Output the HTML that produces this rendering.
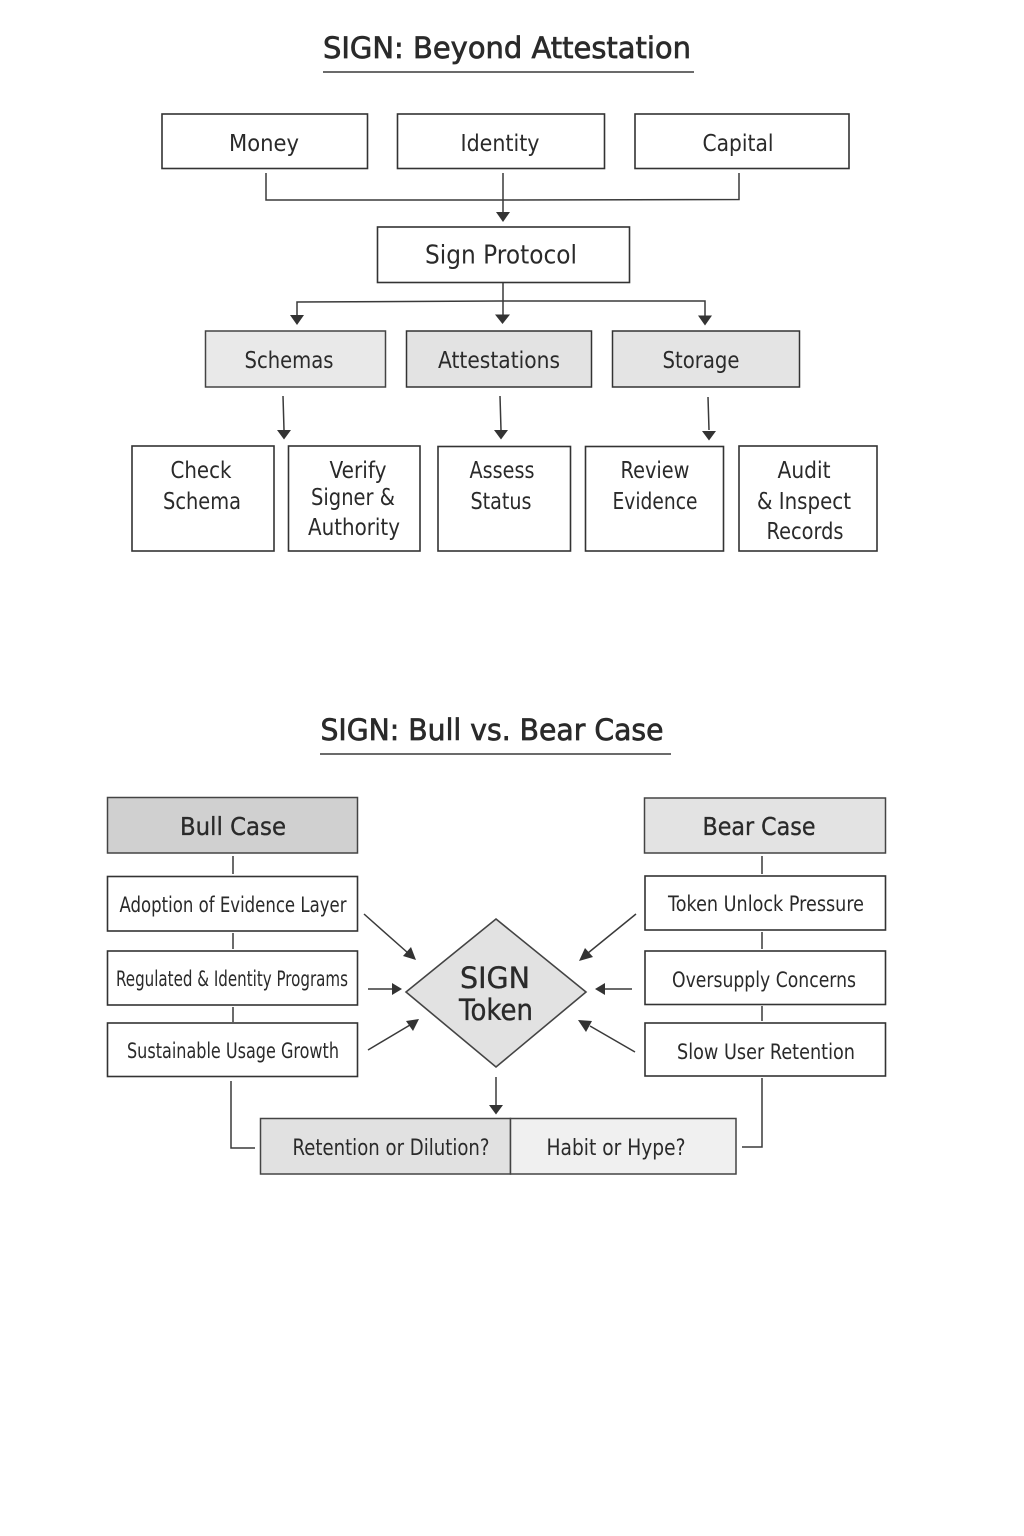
<!DOCTYPE html>
<html><head><meta charset="utf-8"><style>
html,body{margin:0;padding:0;background:#fff}
svg{display:block}
text{font-family:"DejaVu Sans","Liberation Sans",sans-serif;fill:#2a2a2a;text-anchor:middle}
.t{stroke:#2a2a2a;stroke-width:.7}
.m{stroke:#2a2a2a;stroke-width:.35}
.b{fill:#fff;stroke:#333;stroke-width:1.6}
.l{fill:none;stroke:#3a3a3a;stroke-width:1.5}
.a{fill:#333;stroke:none}
</style></head><body>
<svg width="1024" height="1536" viewBox="0 0 1024 1536" xmlns="http://www.w3.org/2000/svg">
<rect width="1024" height="1536" fill="#fff"/>

<text class="t" x="507" y="58" font-size="29" textLength="368" lengthAdjust="spacingAndGlyphs">SIGN: Beyond Attestation</text>
<line class="l" x1="323" y1="72" x2="694" y2="72"/>

<rect class="b" x="162" y="114" width="205.500" height="54.500"/>
<rect class="b" x="397.500" y="114" width="207" height="54.500"/>
<rect class="b" x="635" y="114" width="214" height="54.500"/>
<text x="264" y="151" font-size="23" textLength="70" lengthAdjust="spacingAndGlyphs">Money</text>
<text x="500" y="151" font-size="23" textLength="79" lengthAdjust="spacingAndGlyphs">Identity</text>
<text x="738" y="151" font-size="23" textLength="71" lengthAdjust="spacingAndGlyphs">Capital</text>

<path class="l" d="M266 173V200H500L739 199.500V173M503 173V212"/>
<path class="a" d="M496 212H510L503 222Z"/>

<rect class="b" x="377.500" y="227" width="252" height="55.500"/>
<text x="501" y="263.500" font-size="26" textLength="152" lengthAdjust="spacingAndGlyphs">Sign Protocol</text>

<path class="l" d="M503 283V316M297 316V302L500 301H705V316"/>
<path class="a" d="M290 315H304L297 325ZM495 314.500H510L502.500 324ZM698 315.500H712L705 325.500Z"/>

<rect x="205.500" y="331" width="180" height="56" fill="#e9e9e9" stroke="#444" stroke-width="1.500"/>
<rect x="406.500" y="331" width="185" height="56" fill="#e3e3e3" stroke="#333" stroke-width="1.500"/>
<rect x="612.500" y="331" width="187" height="56" fill="#e4e4e4" stroke="#333" stroke-width="1.500"/>
<text x="289" y="368" font-size="23" textLength="89" lengthAdjust="spacingAndGlyphs">Schemas</text>
<text x="499" y="368" font-size="23" textLength="122" lengthAdjust="spacingAndGlyphs">Attestations</text>
<text x="701" y="368" font-size="23" textLength="77" lengthAdjust="spacingAndGlyphs">Storage</text>

<path class="l" d="M283 396L284 430M500 396L501 430M708 397L709 430"/>
<path class="a" d="M277 430H291L284 439.500ZM494 430H508L501 439.500ZM702 431H716L709 440.500Z"/>

<rect class="b" x="132" y="446" width="142" height="105"/>
<rect class="b" x="288.500" y="446" width="131.500" height="105"/>
<rect class="b" x="438" y="446.500" width="132.500" height="104.500"/>
<rect class="b" x="585.500" y="446.500" width="138" height="104.500"/>
<rect class="b" x="739" y="446" width="138" height="105"/>

<g font-size="23">
<text x="201" y="478" textLength="61" lengthAdjust="spacingAndGlyphs">Check</text>
<text x="202" y="509" textLength="78" lengthAdjust="spacingAndGlyphs">Schema</text>
<text x="358" y="478" textLength="57" lengthAdjust="spacingAndGlyphs">Verify</text>
<text x="353" y="505" textLength="84" lengthAdjust="spacingAndGlyphs">Signer &amp;</text>
<text x="354" y="535" textLength="92" lengthAdjust="spacingAndGlyphs">Authority</text>
<text x="502" y="478" textLength="65" lengthAdjust="spacingAndGlyphs">Assess</text>
<text x="501" y="509" textLength="61" lengthAdjust="spacingAndGlyphs">Status</text>
<text x="655" y="478" textLength="69" lengthAdjust="spacingAndGlyphs">Review</text>
<text x="655" y="509" textLength="85" lengthAdjust="spacingAndGlyphs">Evidence</text>
<text x="804" y="478" textLength="53" lengthAdjust="spacingAndGlyphs">Audit</text>
<text x="804" y="509" textLength="94" lengthAdjust="spacingAndGlyphs">&amp; Inspect</text>
<text x="805" y="539" textLength="77" lengthAdjust="spacingAndGlyphs">Records</text>
</g>

<text class="t" x="492" y="740" font-size="29" textLength="343" lengthAdjust="spacingAndGlyphs">SIGN: Bull vs. Bear Case</text>
<line class="l" x1="320" y1="754" x2="671" y2="754"/>

<rect x="107.500" y="797.500" width="250" height="55.500" fill="#d0d0d0" stroke="#444" stroke-width="1.500"/>
<rect x="644.500" y="798" width="241" height="55" fill="#e3e3e3" stroke="#444" stroke-width="1.500"/>
<text class="m" x="233" y="835" font-size="25" textLength="106" lengthAdjust="spacingAndGlyphs">Bull Case</text>
<text class="m" x="759" y="835" font-size="25" textLength="113" lengthAdjust="spacingAndGlyphs">Bear Case</text>

<path class="l" d="M233 856V874M233 933V949M233 1007V1022M762 856V874M762 932V949M762 1006V1021" stroke-width="1.200"/>

<rect class="b" x="107.500" y="876.500" width="250" height="54.500"/>
<rect class="b" x="107.500" y="951" width="250" height="54"/>
<rect class="b" x="107.500" y="1023" width="250" height="53.500"/>
<rect class="b" x="645" y="876" width="240.500" height="54"/>
<rect class="b" x="645" y="951" width="240.500" height="53.500"/>
<rect class="b" x="645" y="1023" width="240.500" height="53"/>

<g font-size="21">
<text x="233" y="912" textLength="227" lengthAdjust="spacingAndGlyphs">Adoption of Evidence Layer</text>
<text x="232" y="986" textLength="232" lengthAdjust="spacingAndGlyphs">Regulated &amp; Identity Programs</text>
<text x="233" y="1058" textLength="212" lengthAdjust="spacingAndGlyphs">Sustainable Usage Growth</text>
<text x="766" y="911" textLength="196" lengthAdjust="spacingAndGlyphs">Token Unlock Pressure</text>
<text x="764" y="987" textLength="184" lengthAdjust="spacingAndGlyphs">Oversupply Concerns</text>
<text x="766" y="1059" textLength="178" lengthAdjust="spacingAndGlyphs">Slow User Retention</text>
</g>

<path d="M496 919L586 992L496 1067L406 992Z" fill="#e2e2e2" stroke="#444" stroke-width="1.600"/>
<text class="m" x="495" y="988" font-size="29" textLength="70" lengthAdjust="spacingAndGlyphs">SIGN</text>
<text class="m" x="496" y="1020" font-size="29" textLength="74" lengthAdjust="spacingAndGlyphs">Token</text>

<path class="l" d="M364 914L408 953M368 989H393M368 1050L410 1025M636 914L588 953M632 989H604M635 1052L590 1026"/>
<path class="a" d="M416 960L403 956L411 947ZM402 989L392 983V995ZM419 1019L413 1031L406 1021ZM579 961L585 948L593 957ZM595 989L605 983V995ZM578 1020L592 1021L586 1032Z"/>

<path class="l" d="M496 1077V1106" stroke-width="2"/>
<path class="a" d="M489 1105H503L496 1114.500Z"/>

<path class="l" d="M231 1081V1148H255M762 1078V1147H742"/>

<rect x="260.500" y="1118.500" width="250" height="55.500" fill="#e1e1e1" stroke="#444" stroke-width="1.500"/>
<rect x="510.500" y="1118.500" width="225.500" height="55.500" fill="#f0f0f0" stroke="#444" stroke-width="1.500"/>
<text x="391" y="1155" font-size="22" textLength="197" lengthAdjust="spacingAndGlyphs">Retention or Dilution?</text>
<text x="616" y="1155" font-size="22" textLength="139" lengthAdjust="spacingAndGlyphs">Habit or Hype?</text>
</svg>
</body></html>
